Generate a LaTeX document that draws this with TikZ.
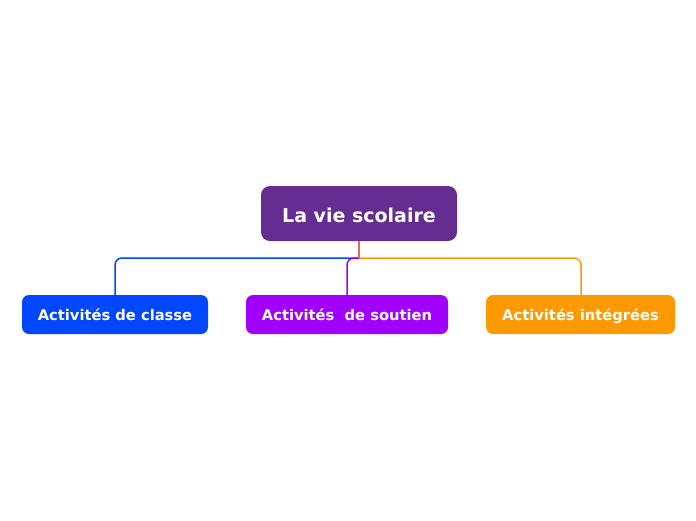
\documentclass[tikz,border=0pt]{standalone}
\usepackage{fontspec}
\setmainfont{DejaVu Sans}
\begin{document}
\begin{tikzpicture}[x=1pt,y=-1pt,
  rootbox/.style={fill=rootc,rounded corners=9pt,minimum width=196pt,minimum height=55pt,inner sep=0pt,text height=21.5pt,text depth=4pt,text=white,font=\fontsize{19}{21}\selectfont\bfseries},
  childbox/.style={rounded corners=7pt,minimum height=39pt,inner sep=0pt,text height=14.5pt,text depth=3.5pt,text=white,font=\fontsize{14.7}{16}\selectfont\bfseries},
  conn/.style={line width=1.5pt,rounded corners=7pt}]
\definecolor{rootc}{HTML}{662D91}
\definecolor{bluec}{HTML}{0047FF}
\definecolor{purc}{HTML}{A100FF}
\definecolor{orc}{HTML}{FF9900}
\definecolor{stemc}{HTML}{D8704A}
\useasboundingbox (0,0) rectangle (696,520);
\node[rootbox] (root) at (359,213.5) {La vie scolaire};
\node[childbox,fill=bluec,minimum width=186pt] (c1) at (115,314.5) {Activités de classe};
\node[childbox,fill=purc,minimum width=202pt] (c2) at (347,314.5) {Activités~ de soutien};
\node[childbox,fill=orc,minimum width=189pt] (c3) at (580.5,314.5) {Activités intégrées};
\coordinate (j) at (359,258);
\draw[conn,bluec] (j) -| (c1.north);
\draw[conn,purc] (j) -| (c2.north);
\draw[conn,orc] (j) -| ([xshift=0.5pt]c3.north);
\draw[line width=1.5pt,stemc] (root.south) -- (j);
\end{tikzpicture}
\end{document}
